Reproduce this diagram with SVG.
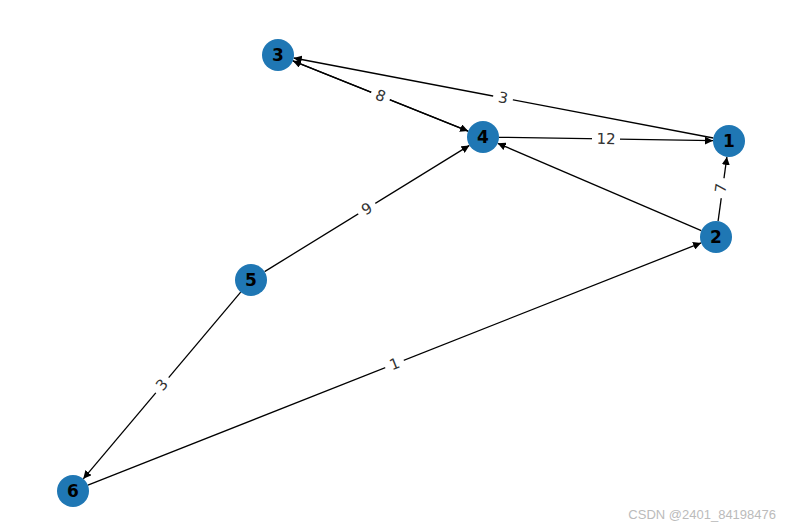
<svg xmlns="http://www.w3.org/2000/svg" width="795" height="528" viewBox="0 0 795 528">
<style>
.e{stroke:#000;stroke-width:1.3;fill:none;marker-end:url(#a)}
.n{fill:#1f77b4}
.nt{font-family:"DejaVu Sans",sans-serif;font-weight:bold;font-size:17px;fill:#000;text-anchor:middle;dominant-baseline:central}
.lb{fill:#fff}
.lt{font-family:"DejaVu Sans",sans-serif;font-size:15px;fill:#333;text-anchor:middle;dominant-baseline:central}
</style>
<defs>
<marker id="a" viewBox="0 0 10 10" refX="10" refY="5" markerWidth="8" markerHeight="8" markerUnits="userSpaceOnUse" orient="auto"><path d="M0,0 L10,5 L0,10 z" fill="#000"/></marker>
</defs>
<rect width="795" height="528" fill="#fff"/>
<g id="edges">
<line class="e" x1="713.3" y1="138" x2="293.7" y2="58"/>
<line class="e" x1="468.1" y1="131.1" x2="292.9" y2="60.9"/>
<line class="e" x1="292.9" y1="60.9" x2="468.1" y2="131.1"/>
<line class="e" x1="499" y1="137.3" x2="713" y2="140.7"/>
<line class="e" x1="718.1" y1="221.1" x2="726.9" y2="156.9"/>
<line class="e" x1="701.3" y1="230.7" x2="497.7" y2="143.3"/>
<line class="e" x1="264.6" y1="271.6" x2="469.4" y2="145.4"/>
<line class="e" x1="240.7" y1="292.2" x2="83.3" y2="478.8"/>
<line class="e" x1="87.9" y1="485.1" x2="701.1" y2="242.9"/>
<g transform="translate(503,98) rotate(10.8)"><rect class="lb" x="-10" y="-9" width="20" height="18"/><text class="lt">3</text></g>
<g transform="translate(380.5,96) rotate(21.8)"><rect class="lb" x="-10" y="-9" width="20" height="18"/><text class="lt">8</text></g>
<g transform="translate(606,139) rotate(0.9)"><rect class="lb" x="-14" y="-9" width="28" height="18"/><text class="lt">12</text></g>
<g transform="translate(721,188) rotate(-82)"><rect class="lb" x="-10" y="-9" width="20" height="18"/><text class="lt">7</text></g>
<g transform="translate(367,209) rotate(-31.6)"><rect class="lb" x="-10" y="-9" width="20" height="18"/><text class="lt">9</text></g>
<g transform="translate(162,385) rotate(-49.8)"><rect class="lb" x="-10" y="-9" width="20" height="18"/><text class="lt">3</text></g>
<g transform="translate(394.5,364) rotate(-21.6)"><rect class="lb" x="-10" y="-9" width="20" height="18"/><text class="lt">1</text></g>
</g>
<g id="node1"><circle class="n" cx="729" cy="141" r="16"/><text class="nt" x="729" y="141">1</text></g>
<g id="node2"><circle class="n" cx="716" cy="237" r="16"/><text class="nt" x="716" y="237">2</text></g>
<g id="node3"><circle class="n" cx="278" cy="55" r="16"/><text class="nt" x="278" y="55">3</text></g>
<g id="node4"><circle class="n" cx="483" cy="137" r="16"/><text class="nt" x="483" y="137">4</text></g>
<g id="node5"><circle class="n" cx="251" cy="280" r="16"/><text class="nt" x="251" y="280">5</text></g>
<g id="node6"><circle class="n" cx="73" cy="491" r="16"/><text class="nt" x="73" y="491">6</text></g>
<text x="776" y="519" font-family="'Liberation Sans',sans-serif" font-size="13" fill="#bbb" text-anchor="end">CSDN @2401_84198476</text>
</svg>
